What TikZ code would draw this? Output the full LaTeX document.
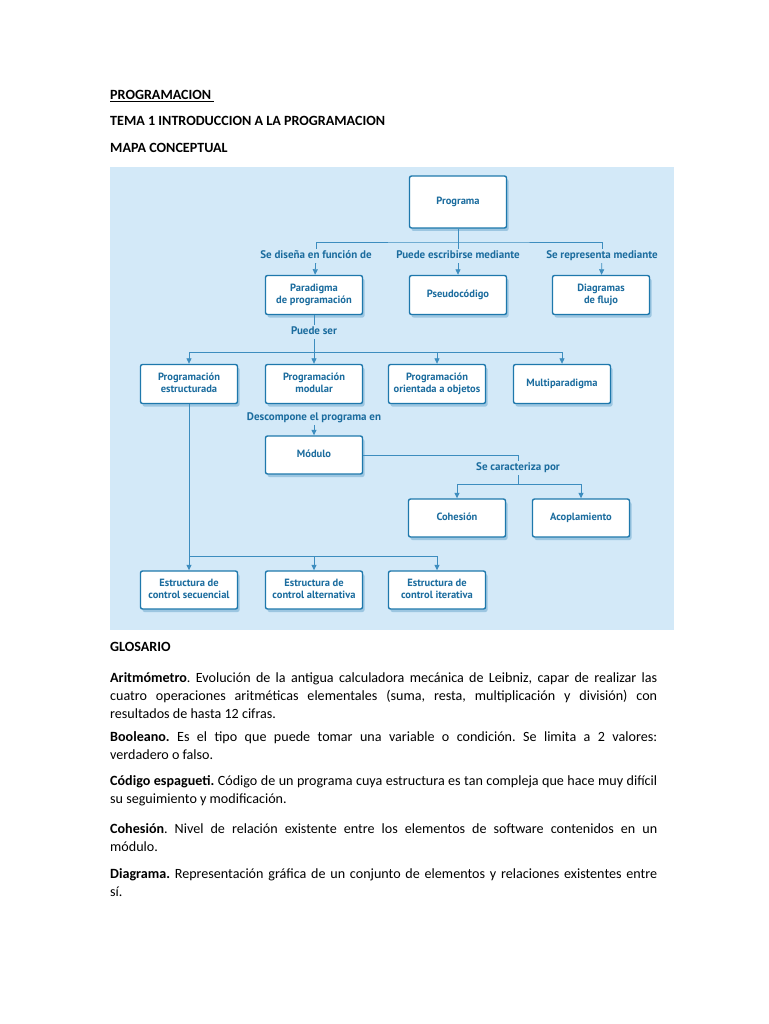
\documentclass[tikz,border=0pt]{standalone}
\usepackage{fontspec}
\setmainfont{Carlito}
\newfontfamily\mapfont{PT Sans}
\usetikzlibrary{arrows.meta,shadows}
\definecolor{mapback}{HTML}{D3E9F8}
\definecolor{boxline}{HTML}{1E78AC}
\definecolor{boxtext}{HTML}{1B6C9E}
\definecolor{linkline}{HTML}{3D8DBF}
\frenchspacing
\begin{document}
\begin{tikzpicture}[x=1pt,y=-1pt]
	\tikzstyle{heading}=[anchor=base west,inner sep=0pt,font=\fontsize{14.1}{18}\selectfont\bfseries]
	\tikzstyle{entry}=[anchor=north west,inner sep=0pt,text width=547pt,align=justify,font=\fontsize{14.1}{18}\selectfont]
	\tikzstyle{concept}=[rectangle,rounded corners=2pt,draw=boxline,line width=1.4pt,fill=white,minimum width=97pt,minimum height=39pt,inner xsep=1pt,text depth=2.5pt,align=center,text=boxtext,font=\mapfont\bfseries\fontsize{10.5}{12.5}\selectfont,drop shadow={shadow xshift=2pt,shadow yshift=-3pt,fill=boxline,opacity=0.3}]
	\tikzstyle{relation}=[inner sep=2pt,text height=7.5pt,text depth=2.5pt,text=boxtext,font=\mapfont\bfseries\fontsize{11}{13}\selectfont]
	\tikzstyle{edge}=[draw=linkline,line width=0.8pt]
	\tikzstyle{arrow}=[edge,-{Triangle[length=5.5pt,width=5pt]}]
	\useasboundingbox[fill=white] (0,0) rectangle (768,1024);
	\node [heading] (t1) at (110,99.5) {\underline{PROGRAMACION\ }};
	\node [heading] (t2) at (110,125.5) {TEMA 1 INTRODUCCION A LA PROGRAMACION};
	\node [heading] (t3) at (110,152.5) {MAPA CONCEPTUAL};
	% mapa conceptual
	\begin{scope}
		\fill [mapback] (110,167) rectangle (674,630);
		\node [concept,minimum height=52pt] (prog) at (458,202) {Programa};
		\node [relation] (dis) at (316,256) {Se diseña en función de};
		\node [relation] (esc) at (458,256) {Puede escribirse mediante};
		\node [relation] (rep) at (602,256) {Se representa mediante};
		\node [concept] (parad) at (314,295) {Paradigma\\de programación};
		\node [concept] (pseudo) at (458,295) {Pseudocódigo};
		\node [concept] (diag) at (601,295) {Diagramas\\de flujo};
		\node [relation] (puede) at (314,332) {Puede ser};
		\node [concept] (est) at (189,384) {Programación\\estructurada};
		\node [concept] (mod) at (314,384) {Programación\\modular};
		\node [concept] (ori) at (437,384) {Programación\\orientada a objetos};
		\node [concept] (multi) at (562,384) {Multiparadigma};
		\node [relation] (desc) at (314,418) {Descompone el programa en};
		\node [concept,minimum height=38pt] (modulo) at (314,455) {Módulo};
		\node [relation] (carac) at (518,468) {Se caracteriza por};
		\node [concept,minimum height=38pt] (cohes) at (457,518) {Cohesión};
		\node [concept,minimum height=38pt] (acopl) at (581,518) {Acoplamiento};
		\node [concept,minimum height=38pt] (sec) at (189,590) {Estructura de\\control secuencial};
		\node [concept,minimum height=38pt] (alt) at (314,590) {Estructura de\\control alternativa};
		\node [concept,minimum height=38pt] (ite) at (437,590) {Estructura de\\control iterativa};
		\coordinate (busA) at (458,242);
		\coordinate (busB) at (314,352);
		\coordinate (busC) at (518,484);
		\coordinate (busD) at (189,556);
		\path[edge] (prog) -- (esc);
		\path[edge] (dis.north) |- (busA) -| (rep.north);
		\path[arrow] (dis) -- (parad);
		\path[arrow] (esc) -- (pseudo);
		\path[arrow] (rep) -- (diag);
		\path[edge] (parad) -- (puede);
		\path[arrow] (puede) -- (mod);
		\path[arrow] (busB) -| (est.north);
		\path[arrow] (busB) -| (ori.north);
		\path[arrow] (busB) -| (multi.north);
		\path[arrow] (desc) -- (modulo);
		\path[edge] (modulo.east) -| (carac.north);
		\path[edge] (carac) -- (busC);
		\path[arrow] (busC) -| (cohes.north);
		\path[arrow] (busC) -| (acopl.north);
		\path[arrow] (est) -- (sec);
		\path[arrow] (busD) -| (alt.north);
		\path[arrow] (busD) -| (ite.north);
	\end{scope}
	% glosario
	\node [heading] (t4) at (110,651.5) {GLOSARIO};
	\node [entry] (arit) at (110,669.4) {\strut\textbf{Aritmómetro}. Evolución de la antigua calculadora mecánica de Leibniz, capar de realizar las\linebreak cuatro operaciones aritméticas elementales (suma, resta, multiplicación y división) con\linebreak resultados de hasta 12 cifras.};
	\node [entry] (bool) at (110,728.4) {\strut\textbf{Booleano.} Es el tipo que puede tomar una variable o condición. Se limita a 2 valores:\linebreak verdadero o falso.};
	\node [entry] (cod) at (110,772.4) {\strut\textbf{Código espagueti.} Código de un programa cuya estructura es tan compleja que hace muy difícil\linebreak su seguimiento y modificación.};
	\node [entry] (cohdef) at (110,820.4) {\strut\textbf{Cohesión}. Nivel de relación existente entre los elementos de software contenidos en un\linebreak módulo.};
	\node [entry] (diadef) at (110,865.4) {\strut\textbf{Diagrama.} Representación gráfica de un conjunto de elementos y relaciones existentes entre\linebreak sí.};
\end{tikzpicture}
\end{document}
